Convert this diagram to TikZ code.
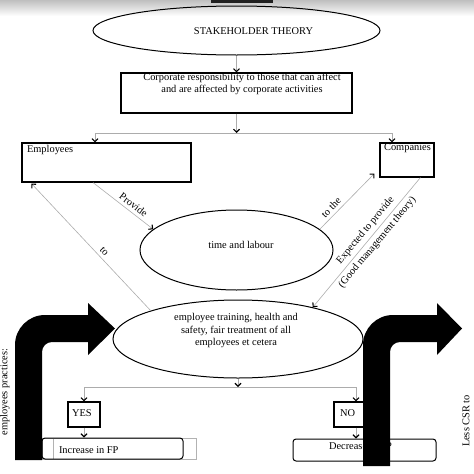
\documentclass[tikz,border=0pt]{standalone}
\usepackage{fontspec}
\setmainfont{Liberation Serif}
\usetikzlibrary{arrows.meta,shapes.geometric,positioning}

\begin{document}
\begin{tikzpicture}[x=1pt,y=-1pt,font=\fontsize{10.4}{12.5}\selectfont,
    % styles
    flow box/.style={draw,line width=1.1pt,inner sep=0pt},
    end box/.style={draw,line width=1pt,rounded corners=3pt,inner sep=0pt},
    flow oval/.style={draw,ellipse,line width=1pt,inner sep=0pt},
    flow line/.style={draw=gray!65,line width=0.6pt},
    flow arrow/.style={flow line,-{Straight Barb[length=3pt,width=6pt,line width=1.1pt,color=black]}},
    big arrow/.style={fill=black},
    side text/.style={rotate=90,align=left}]

  \useasboundingbox (0,0) rectangle (474,474);
  \clip (0,0) rectangle (474,474);

  % top band
  \shade[top color=gray!50,bottom color=white] (0,0) rectangle (474,16);
  \fill[gray!25!black] (211,0) rectangle (273,2.5);

  % theory and responsibility
  \node[flow oval,minimum width=287pt,minimum height=49pt] (theory) at (236.5,30.5) {};
  \node (theory text) at (253.5,31) {STAKEHOLDER THEORY};
  \node[flow box,minimum width=231pt,minimum height=40pt] (corp) at (236.5,93) {};
  \node[align=center] (corp text) at (242,84) {Corporate responsibility to those that can affect\\and are affected by corporate activities};

  % stakeholders
  \node[flow box,minimum width=169pt,minimum height=39pt] (emp) at (106.5,162.5) {};
  \node[anchor=west] (emp text) at (23.5,150) {Employees};
  \node[flow box,minimum width=54pt,minimum height=34pt] (comp) at (407,160) {};
  \node (comp text) at (407.5,148) {Companies};

  % what they give
  \node[flow oval,minimum width=193pt,minimum height=80pt] (labour) at (236.5,250) {};
  \node (labour text) at (241,245) {time and labour};
  \node[flow oval,minimum width=250pt,minimum height=78pt] (train) at (238,339) {};
  \node[align=center] (train text) at (236,331) {employee training, health and\\safety, fair treatment of all\\employees et cetera};

  % outcomes
  \node[flow box,minimum width=32pt,minimum height=25pt] (yes) at (84,414.5) {};
  \node[anchor=west] (yes text) at (68.5,413) {YES};
  \node[flow box,minimum width=44pt,minimum height=25pt] (no) at (356,414.5) {};
  \node[anchor=west] (no text) at (336.5,413) {NO};
  \node[draw=gray!60,line width=0.5pt,minimum width=154pt,minimum height=21pt,inner sep=0pt] (incr back) at (119,448.5) {};
  \draw[gray!60,line width=0.5pt] ([xshift=11pt]incr back.north west) -- ([xshift=11pt]incr back.south west);
  \node[end box,minimum width=141pt,minimum height=21pt] (incr) at (112.5,448.5) {};
  \node[anchor=west] (incr text) at (55.5,450) {Increase in FP};
  \node[end box,minimum width=143pt,minimum height=22pt] (decr) at (364.5,450) {};
  \node[anchor=west] (decr text) at (325.5,446) {Decrease in FP};

  % connectors
  \draw[flow arrow] (theory.south) -- (corp.north);
  \coordinate (split) at (236.5,133);
  \coordinate (split emp) at (95,133);
  \coordinate (split comp) at (392,133);
  \draw[flow arrow] (corp.south) -- (split);
  \draw[flow line] (split emp) -- (split comp);
  \draw[flow arrow] (split emp) -- (split emp |- emp.north);
  \draw[flow arrow] (split comp) -- (split comp |- comp.north);

  \draw[flow arrow] ([xshift=-13.5pt]emp.south) -- (labour.166)
    node[sloped,above,pos=.6] (provide) {Provide};
  \draw[flow arrow] (labour.14) -- ([xshift=-5pt,yshift=4pt]comp.south west)
    node[sloped,above,pos=.3] (tothe) {to the};
  \draw[flow arrow] ([xshift=41pt]comp.south west) -- (train.23)
    node[sloped,above,pos=.45] (expected) {Expected to provide}
    node[sloped,below,pos=.46] (good) {(Good management theory)};
  \draw[flow arrow] (train.162) -- ([xshift=10pt,yshift=-1pt]emp.south west)
    node[sloped,above,pos=.43] (to) {to};

  \coordinate (join) at (238,387);
  \coordinate (join yes) at (84,387);
  \coordinate (join no) at (356,387);
  \draw[flow arrow] (train.south) -- (join);
  \draw[flow line] (join yes) -- (join no);
  \draw[flow arrow] (join yes) -- (yes.north);
  \draw[flow arrow] (join no) -- (no.north);
  \draw[flow arrow] (yes.south) -- (yes.south |- incr.north);
  \draw[flow arrow] (no.south) -- (no.south |- decr.north);

  % big arrows
  \fill[big arrow] (15,460) -- (15,345) arc[start angle=180,end angle=270,radius=30]
    -- (88,315) -- (88,303) -- (115,328.5) -- (88,355) -- (88,342) -- (52,342)
    arc[start angle=270,end angle=180,radius=10] -- (42,460) -- cycle;
  \fill[big arrow] (363,466) -- (363,345) arc[start angle=180,end angle=270,radius=30]
    -- (437,315) -- (437,303) -- (462,328.5) -- (437,355) -- (437,342) -- (400,342)
    arc[start angle=270,end angle=180,radius=10] -- (390,466) -- cycle;

  % side notes
  \node[side text] (left note) at (5,392) {employees practices:};
  \node[side text,anchor=north west] (right note) at (459,450.5) {Less CSR to\\employees practices};
\end{tikzpicture}
\end{document}
